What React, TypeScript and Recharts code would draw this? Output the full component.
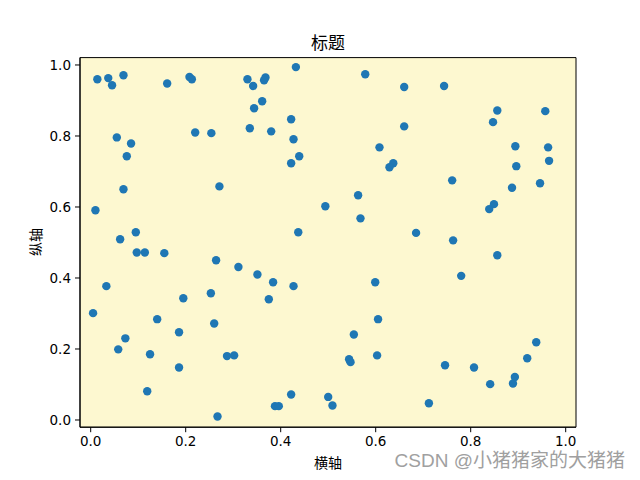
import React from 'react';
import { ScatterChart, Scatter, XAxis, YAxis, CartesianGrid, ReferenceArea } from 'recharts';

const xValues = [
  0.014, 0.037, 0.045, 0.069, 0.161, 0.208, 0.213, 0.330, 0.342, 0.368,
  0.365, 0.432, 0.361, 0.344, 0.422, 0.335, 0.380, 0.427, 0.220, 0.254,
  0.055, 0.085, 0.076, 0.439, 0.422, 0.069, 0.271, 0.010, 0.095, 0.062,
  0.437,
  0.578, 0.660, 0.744, 0.856, 0.957, 0.847, 0.660, 0.608, 0.894, 0.963,
  0.637, 0.629, 0.965, 0.896, 0.761, 0.946, 0.887, 0.563, 0.494, 0.849,
  0.839, 0.568, 0.685, 0.763,
  0.097, 0.114, 0.155, 0.264, 0.311, 0.351, 0.384, 0.427, 0.033, 0.253,
  0.195, 0.375, 0.005, 0.140, 0.260, 0.186, 0.073, 0.058, 0.125, 0.287,
  0.302, 0.186, 0.119, 0.422, 0.388, 0.396, 0.267,
  0.856, 0.780, 0.599, 0.605, 0.554, 0.544, 0.547, 0.603, 0.938, 0.919,
  0.746, 0.807, 0.893, 0.889, 0.841, 0.500, 0.509, 0.712,
];

const yValues = [
  0.960, 0.963, 0.943, 0.971, 0.948, 0.966, 0.960, 0.960, 0.941, 0.965,
  0.957, 0.994, 0.898, 0.878, 0.847, 0.822, 0.813, 0.791, 0.810, 0.808,
  0.796, 0.779, 0.743, 0.743, 0.723, 0.650, 0.658, 0.591, 0.529, 0.509,
  0.529,
  0.974, 0.938, 0.941, 0.872, 0.870, 0.839, 0.827, 0.768, 0.771, 0.768,
  0.723, 0.712, 0.730, 0.715, 0.675, 0.667, 0.654, 0.633, 0.602, 0.608,
  0.594, 0.568, 0.527, 0.506,
  0.472, 0.472, 0.470, 0.450, 0.431, 0.410, 0.388, 0.377, 0.377, 0.357,
  0.343, 0.340, 0.301, 0.284, 0.272, 0.247, 0.230, 0.199, 0.185, 0.180,
  0.182, 0.148, 0.081, 0.072, 0.039, 0.039, 0.010,
  0.464, 0.406, 0.388, 0.284, 0.241, 0.171, 0.163, 0.182, 0.219, 0.174,
  0.154, 0.148, 0.121, 0.103, 0.101, 0.065, 0.041, 0.047,
];

const xTicks = [0, 0.2, 0.4, 0.6, 0.8, 1.0];
const yTicks = [0, 0.2, 0.4, 0.6, 0.8, 1.0];
const xDomain = [-0.0225, 1.0217];
const yDomain = [-0.0203, 1.0208];

const titleText = '标题';
const xLabelText = '横轴';
const yLabelText = '纵轴';
const watermarkText = 'CSDN @小猪猪家的大猪猪';

const data = xValues.map((x, i) => ({ x, y: yValues[i] }));

const tickStyle = { fill: '#000', fontSize: 13.5, fontFamily: 'DejaVu Sans' };
const cjk = '"Noto Sans CJK SC", sans-serif';

const Dot = (props: any) => (
  <circle cx={props.cx} cy={props.cy} r={4.2} fill="#1f77b4" />
);

export default function App() {
  return (
    <div style={{ position: 'absolute', left: 0, top: 0, width: 640, height: 480, background: '#fff' }}>
      <ScatterChart
        width={640}
        height={480}
        margin={{ top: 57.6, right: 64, bottom: 22.8, left: 20 }}
      >
        <CartesianGrid fill="#fdf8d0" horizontal={false} vertical={false} />
        <XAxis
          type="number"
          dataKey="x"
          domain={xDomain}
          ticks={xTicks}
          allowDataOverflow
          height={30}
          tick={tickStyle}
          tickSize={5}
          tickMargin={4}
          tickLine={{ stroke: '#000' }}
          axisLine={{ stroke: '#000' }}
          tickFormatter={(v: number) => v.toFixed(1)}
        />
        <YAxis
          type="number"
          dataKey="y"
          domain={yDomain}
          ticks={yTicks}
          allowDataOverflow
          width={60}
          tick={tickStyle}
          tickSize={5}
          tickMargin={4}
          tickLine={{ stroke: '#000' }}
          axisLine={{ stroke: '#000' }}
          tickFormatter={(v: number) => v.toFixed(1)}
        />
        <ReferenceArea
          x1={xDomain[0]}
          x2={xDomain[1]}
          y1={yDomain[0]}
          y2={yDomain[1]}
          fill="none"
          fillOpacity={0}
          stroke="#000"
          strokeWidth={1}
        />
        <Scatter data={data} shape={Dot} isAnimationActive={false} />
      </ScatterChart>
      <div style={{ position: 'absolute', left: 228, width: 200, top: 30, textAlign: 'center', fontFamily: cjk, fontSize: 17, lineHeight: '24px', color: '#000' }}>
        {titleText}
      </div>
      <div style={{ position: 'absolute', left: 228, width: 200, top: 452, textAlign: 'center', fontFamily: cjk, fontSize: 14, lineHeight: '20px', color: '#000' }}>
        {xLabelText}
      </div>
      <div style={{ position: 'absolute', left: -65, width: 200, top: 232, textAlign: 'center', fontFamily: cjk, fontSize: 14, lineHeight: '20px', color: '#000', transform: 'rotate(-90deg)' }}>
        {yLabelText}
      </div>
      <div style={{ position: 'absolute', right: 15, top: 448, fontFamily: '"Liberation Sans", "Noto Sans CJK SC", sans-serif', fontSize: 19, lineHeight: '26px', color: '#a0a0a0', whiteSpace: 'nowrap' }}>
        {watermarkText}
      </div>
    </div>
  );
}
